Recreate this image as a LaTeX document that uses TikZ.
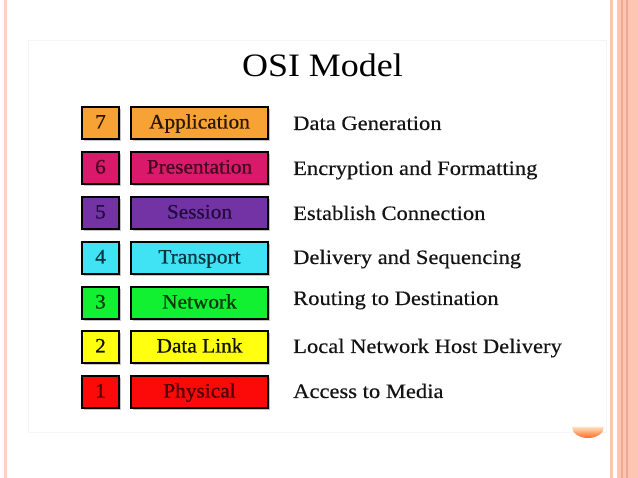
\documentclass[tikz,border=0pt]{standalone}
\usepackage{fontspec}
\setmainfont{Liberation Serif}[FakeStretch=1.1]
\newfontfamily\boxfont{Liberation Serif}[FakeStretch=1.04, FakeBold=0.7]
\newfontfamily\descfont{Liberation Serif}[FakeStretch=1.1, FakeBold=0.35]
\usetikzlibrary{shadows}
\definecolor{cApp}{HTML}{F7A234}
\definecolor{cPre}{HTML}{D91A6B}
\definecolor{cSes}{HTML}{7433A4}
\definecolor{cTra}{HTML}{3FE3F3}
\definecolor{cNet}{HTML}{12F032}
\definecolor{cDat}{HTML}{FFFF10}
\definecolor{cPhy}{HTML}{FC0A0A}
\definecolor{tApp}{HTML}{2A1604}
\definecolor{tPre}{HTML}{4A0620}
\definecolor{tSes}{HTML}{200C40}
\definecolor{tTra}{HTML}{0A3440}
\definecolor{tNet}{HTML}{08380E}
\definecolor{tDat}{HTML}{101000}
\definecolor{tPhy}{HTML}{500202}
\definecolor{band}{HTML}{FCC6B3}
\definecolor{bandline}{HTML}{F0A88E}
\definecolor{descol}{HTML}{141414}
\tikzset{
  layerbox/.style={draw=black, line width=1.4pt, minimum height=32pt, inner sep=0pt,
    text height=14pt, text depth=3pt,
    drop shadow={shadow xshift=2pt, shadow yshift=-2pt, opacity=0.45}},
  numbox/.style={layerbox, minimum width=37pt, font=\boxfont\fontsize{20.5}{24}\selectfont},
  namebox/.style={layerbox, minimum width=137pt, font=\boxfont\fontsize{20.5}{24}\selectfont},
  desc/.style={anchor=base west, inner sep=0pt, text=descol, font=\descfont\fontsize{20.5}{24}\selectfont},
  titletext/.style={anchor=base, inner sep=0pt, font=\fontsize{32.7}{38}\selectfont, text=black}
}
\begin{document}
\begin{tikzpicture}[x=1pt, y=-1pt]
\useasboundingbox (0,0) rectangle (638,478);
\fill[white] (0,0) rectangle (638,478);
% slide decoration
\fill[band!80] (4,0) rectangle (6.5,478);
\fill[band] (610,0) rectangle (613,478);
\fill[band] (617,0) rectangle (638,478);
\fill[bandline] (621,0) rectangle (622.5,478);
\fill[bandline] (626,0) rectangle (627.5,478);
\draw[gray!8, line width=0.8pt] (28,40) rectangle (606,432);
\shade[top color=orange!25, bottom color=orange!70!red!90] (572,427) arc[start angle=180, end angle=360, x radius=16, y radius=-11] -- cycle;
% title
\node[titletext] (title) at (322.5,77) {OSI Model};
% layers
\foreach \n/\yy/\by/\fc/\tc/\lab/\dsc in {
  7/123/130/cApp/tApp/Application/Data Generation,
  6/168/175/cPre/tPre/Presentation/Encryption and Formatting,
  5/213/220/cSes/tSes/Session/Establish Connection,
  4/258/264/cTra/tTra/Transport/Delivery and Sequencing,
  3/303/305/cNet/tNet/Network/Routing to Destination,
  2/347/353/cDat/tDat/Data Link/Local Network Host Delivery,
  1/392/398/cPhy/tPhy/Physical/Access to Media}{
  \node[numbox, fill=\fc, text=\tc] (n\n) at (100.5,\yy) {\n};
  \node[namebox, fill=\fc, text=\tc] (l\n) at (199.5,\yy) {\lab};
  \node[desc] (d\n) at (293,\by) {\dsc};
}
\end{tikzpicture}
\end{document}
